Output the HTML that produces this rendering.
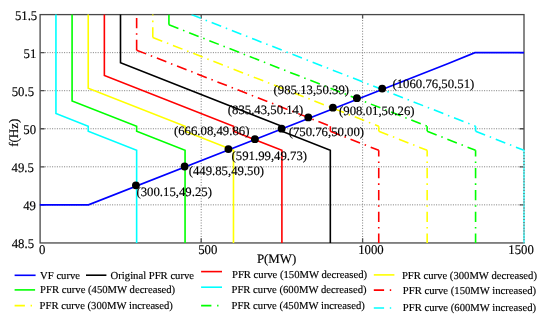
<!DOCTYPE html>
<html><head><meta charset="utf-8"><title>VF and PFR curves</title>
<style>text{stroke:#000;stroke-width:0.15px}html,body{margin:0;padding:0;background:#fff;width:550px;height:321px;overflow:hidden}</style></head>
<body>
<svg width="550" height="321" viewBox="0 0 550 321" style="position:absolute;left:0;top:0;text-rendering:geometricPrecision;stroke:#000;stroke-width:0;font-family:'Liberation Serif',serif">
<rect width="550" height="321" fill="#fff"/>
<path d="M201.20 14.60 V242.95" stroke="#777" stroke-width="0.95" stroke-dasharray="1 1.7" fill="none"/>
<path d="M362.60 14.60 V242.95" stroke="#777" stroke-width="0.95" stroke-dasharray="1 1.7" fill="none"/>
<path d="M40.10 204.85 H524.00" stroke="#777" stroke-width="0.95" stroke-dasharray="1 1.4" fill="none"/>
<path d="M40.10 166.80 H524.00" stroke="#777" stroke-width="0.95" stroke-dasharray="1 1.4" fill="none"/>
<path d="M40.10 128.75 H524.00" stroke="#777" stroke-width="0.95" stroke-dasharray="1 1.4" fill="none"/>
<path d="M40.10 90.70 H524.00" stroke="#777" stroke-width="0.95" stroke-dasharray="1 1.4" fill="none"/>
<path d="M40.10 52.65 H524.00" stroke="#777" stroke-width="0.95" stroke-dasharray="1 1.4" fill="none"/>
<rect x="40.10" y="14.60" width="483.90" height="228.35" fill="none" stroke="#484848" stroke-width="1.3"/>
<path d="M201.20 242.95 v-4.6 M201.20 14.60 v4.0 M362.60 242.95 v-4.6 M362.60 14.60 v4.0 M40.10 204.85 h4.5 M524.00 204.85 h-4.5 M40.10 166.80 h4.5 M524.00 166.80 h-4.5 M40.10 128.75 h4.5 M524.00 128.75 h-4.5 M40.10 90.70 h4.5 M524.00 90.70 h-4.5 M40.10 52.65 h4.5 M524.00 52.65 h-4.5" stroke="#505050" stroke-width="1.3" fill="none"/>
<clipPath id="ax"><rect x="39.60" y="14.60" width="485.40" height="228.35"/></clipPath>
<path d="M55.94 14.60 L55.94 113.56 L88.22 126.24 L88.22 131.26 L136.64 150.29 L136.64 242.90" stroke="#00ffff" stroke-width="1.6" fill="none" stroke-linejoin="miter"/>
<path d="M72.08 14.60 L72.08 100.87 L136.64 126.24 L136.64 131.26 L185.06 150.29 L185.06 242.90" stroke="#00ff00" stroke-width="1.6" fill="none" stroke-linejoin="miter"/>
<path d="M88.22 14.60 L88.22 88.19 L185.06 126.24 L185.06 131.26 L233.48 150.29 L233.48 242.90" stroke="#ffff00" stroke-width="1.6" fill="none" stroke-linejoin="miter"/>
<path d="M104.36 14.60 L104.36 75.51 L233.48 126.24 L233.48 131.26 L281.90 150.29 L281.90 242.90" stroke="#ff0000" stroke-width="1.6" fill="none" stroke-linejoin="miter"/>
<path d="M120.50 14.60 L120.50 62.82 L281.90 126.24 L281.90 131.26 L330.32 150.29 L330.32 242.90" stroke="#000000" stroke-width="1.6" fill="none" stroke-linejoin="miter"/>
<path d="M136.64 50.14 L136.64 -61.50 M330.32 131.26 L330.32 126.24 M378.74 243.90 L378.74 150.29" stroke="#ff0000" stroke-width="1.6" fill="none" stroke-linecap="butt" clip-path="url(#ax)" stroke-dasharray="10.3 5 1.55 5"/>
<path d="M136.64 50.14 L330.32 126.24 M330.32 131.26 L378.74 150.29" stroke="#ff0000" stroke-width="1.6" fill="none" stroke-linecap="butt" clip-path="url(#ax)" stroke-dasharray="10.2 5 1.5 5"/>
<path d="M152.78 37.46 L152.78 -61.50 M378.74 131.26 L378.74 126.24 M427.16 243.90 L427.16 150.29" stroke="#ffff00" stroke-width="1.6" fill="none" stroke-linecap="butt" clip-path="url(#ax)" stroke-dasharray="10.3 5 1.55 5"/>
<path d="M152.78 37.46 L378.74 126.24 M378.74 131.26 L427.16 150.29" stroke="#ffff00" stroke-width="1.6" fill="none" stroke-linecap="butt" clip-path="url(#ax)" stroke-dasharray="10.2 5 1.5 5"/>
<path d="M168.92 24.77 L168.92 -61.50 M427.16 131.26 L427.16 126.24 M475.58 243.90 L475.58 150.29" stroke="#00ff00" stroke-width="1.6" fill="none" stroke-linecap="butt" clip-path="url(#ax)" stroke-dasharray="10.3 5 1.55 5"/>
<path d="M168.92 24.77 L427.16 126.24 M427.16 131.26 L475.58 150.29" stroke="#00ff00" stroke-width="1.6" fill="none" stroke-linecap="butt" clip-path="url(#ax)" stroke-dasharray="10.2 5 1.5 5"/>
<path d="M185.06 12.09 L185.06 -61.50 M475.58 131.26 L475.58 126.24 M524.00 243.90 L524.00 150.29" stroke="#00ffff" stroke-width="1.6" fill="none" stroke-linecap="butt" clip-path="url(#ax)" stroke-dasharray="10.3 5 1.55 5"/>
<path d="M191.45 14.60 L475.58 126.24 M475.58 131.26 L524.00 150.29" stroke="#00ffff" stroke-width="1.6" fill="none" stroke-linecap="butt" clip-path="url(#ax)" stroke-dasharray="10.2 5 1.5 5"/>
<path d="M39.80 204.85 L88.47 204.85 L448.30 63.46 L474.93 52.65 L524.00 52.65" stroke="#0000ff" stroke-width="1.6" fill="none"/>
<path d="M524.00 150.29 V243.45" stroke="#7ff" stroke-width="1.6" fill="none"/>
<path d="M524.00 152.29 V242.95" stroke="#6a7a7a" stroke-width="1.5" stroke-dasharray="1 1.9" fill="none"/>
<circle cx="135.9" cy="185.3" r="3.9" fill="#000"/>
<circle cx="184.6" cy="166.5" r="3.9" fill="#000"/>
<circle cx="228.4" cy="149.1" r="3.9" fill="#000"/>
<circle cx="254.9" cy="139.2" r="3.9" fill="#000"/>
<circle cx="281.6" cy="128.7" r="3.9" fill="#000"/>
<circle cx="308.3" cy="117.4" r="3.9" fill="#000"/>
<circle cx="332.9" cy="107.7" r="3.9" fill="#000"/>
<circle cx="356.9" cy="98.2" r="3.9" fill="#000"/>
<circle cx="382.2" cy="88.6" r="3.9" fill="#000"/>
<text x="136.5" y="195.8" font-size="12.75" fill="#000">(300.15,49.25)</text>
<text x="188.7" y="174.5" font-size="12.75" fill="#000">(449.85,49.50)</text>
<text x="231.6" y="159.9" font-size="12.75" fill="#000">(591.99,49.73)</text>
<text x="174.0" y="135.2" font-size="12.75" fill="#000">(666.08,49.86)</text>
<text x="288.7" y="135.8" font-size="12.75" fill="#000">(750.76,50.00)</text>
<text x="227.8" y="113.6" font-size="12.75" fill="#000">(835.43,50.14)</text>
<text x="339.1" y="114.8" font-size="12.75" fill="#000">(908.01,50.26)</text>
<text x="273.6" y="93.5" font-size="12.75" fill="#000">(985.13,50.39)</text>
<text x="392.5" y="87.6" font-size="12.75" fill="#000">(1060.76,50.51)</text>
<text transform="translate(14.90 20.10) scale(0.960 1)" font-size="13.30" fill="#000">51.5</text>
<text transform="translate(23.60 58.15) scale(0.960 1)" font-size="13.30" fill="#000">51</text>
<text transform="translate(11.70 96.20) scale(0.960 1)" font-size="13.30" fill="#000">50.5</text>
<text transform="translate(23.30 134.25) scale(0.960 1)" font-size="13.30" fill="#000">50</text>
<text transform="translate(11.50 172.30) scale(0.960 1)" font-size="13.30" fill="#000">49.5</text>
<text transform="translate(23.20 210.35) scale(0.960 1)" font-size="13.30" fill="#000">49</text>
<text transform="translate(11.70 248.40) scale(0.960 1)" font-size="13.30" fill="#000">48.5</text>
<text transform="translate(39.00 254.40) scale(0.960 1)" font-size="13.30" fill="#000">0</text>
<text transform="translate(198.20 254.40) scale(0.960 1)" font-size="13.30" fill="#000">500</text>
<text transform="translate(358.20 254.40) scale(0.960 1)" font-size="13.30" fill="#000">1000</text>
<text transform="translate(508.30 254.40) scale(0.960 1)" font-size="13.30" fill="#000">1500</text>
<text x="256.9" y="263.4" font-size="12.9" fill="#000">P(MW)</text>
<text transform="translate(18.2 146.8) rotate(-90)" font-size="13" fill="#000">f(Hz)</text>
<path d="M14.6 275.3 H35.6" stroke="#0000ff" stroke-width="1.6" fill="none"/>
<text x="40.1" y="278.5" font-size="10.67" fill="#000">VF curve</text>
<path d="M86.0 275.2 H106.4" stroke="#000" stroke-width="1.6" fill="none"/>
<text x="110.6" y="278.5" font-size="10.67" fill="#000">Original PFR curve</text>
<path d="M14.6 289.9 H35.1" stroke="#00ff00" stroke-width="1.6" fill="none"/>
<text x="40.1" y="293.3" font-size="10.67" fill="#000">PFR curve (450MW decreased)</text>
<path d="M14.6 305.6 H24.9 M30.6 305.6 h1.4" stroke="#ffff00" stroke-width="1.6" fill="none"/>
<text x="39.6" y="308.9" font-size="10.67" fill="#000">PFR curve (300MW increased)</text>
<path d="M201.1 271.6 H222.0" stroke="#ff0000" stroke-width="1.6" fill="none"/>
<text x="232.0" y="278.2" font-size="10.67" fill="#000">PFR curve (150MW decreased)</text>
<path d="M201.1 287.2 H222.0" stroke="#00ffff" stroke-width="1.6" fill="none"/>
<text x="231.5" y="292.9" font-size="10.67" fill="#000">PFR curve (600MW decreased)</text>
<path d="M201.1 305.6 H211.4 M217.1 305.6 h1.4" stroke="#00ff00" stroke-width="1.6" fill="none"/>
<text x="231.5" y="308.5" font-size="10.67" fill="#000">PFR curve (450MW increased)</text>
<path d="M373.8 274.9 H394.4" stroke="#ffff00" stroke-width="1.6" fill="none"/>
<text x="401.9" y="278.5" font-size="10.67" fill="#000">PFR curve (300MW decreased)</text>
<path d="M373.8 290.1 H384.1 M389.8 290.1 h1.4" stroke="#ff0000" stroke-width="1.6" fill="none"/>
<text x="402.8" y="293.6" font-size="10.67" fill="#000">PFR curve (150MW increased)</text>
<path d="M373.8 308.0 H384.1 M389.8 308.0 h1.4" stroke="#00ffff" stroke-width="1.6" fill="none"/>
<text x="402.8" y="311.3" font-size="10.67" fill="#000">PFR curve (600MW increased)</text>
</svg>
</body></html>
